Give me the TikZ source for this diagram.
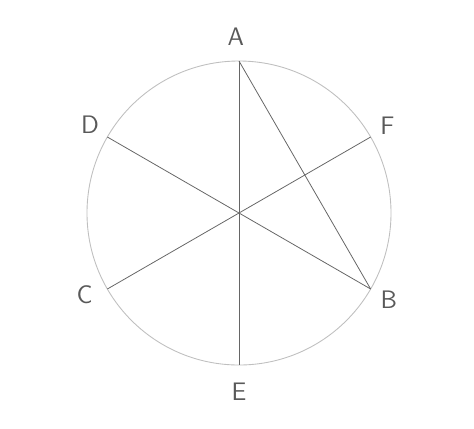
\documentclass[tikz,border=0pt]{standalone}
\tikzset{
  rim/.style={draw=black!25, line width=0.5pt},
  chord/.style={draw=black!60, line width=0.45pt},
  lbl/.style={text=black!65, font=\Large\sffamily, inner sep=0pt}
}
\begin{document}
\begin{tikzpicture}
    \useasboundingbox (-4.78,-4.30) rectangle (4.70,4.26);
        \coordinate (o) at (0,0);
        \draw [rim] (o) circle (3.04);
        \coordinate (pa) at (90:3.04);
        \coordinate (pf) at (30:3.04);
        \coordinate (pb) at (-30:3.04);
        \coordinate (pe) at (-90:3.04);
        \coordinate (pc) at (210:3.04);
        \coordinate (pd) at (150:3.04);
        \node [lbl] (la) at (91:3.52) {A};
        \node [lbl] (lf) at (30.4:3.44) {F};
        \node [lbl] (lb) at (-30:3.46) {B};
        \node [lbl] (le) at (-90:3.58) {E};
        \node [lbl] (lc) at (208:3.50) {C};
        \node [lbl] (ld) at (149.4:3.46) {D};
        \draw [chord] (pa) -- (pe);
        \draw [chord] (pd) -- (pb);
        \draw [chord] (pf) -- (pc);
        \draw [chord] (pa) -- (pb);
    \end{tikzpicture}
\end{document}
